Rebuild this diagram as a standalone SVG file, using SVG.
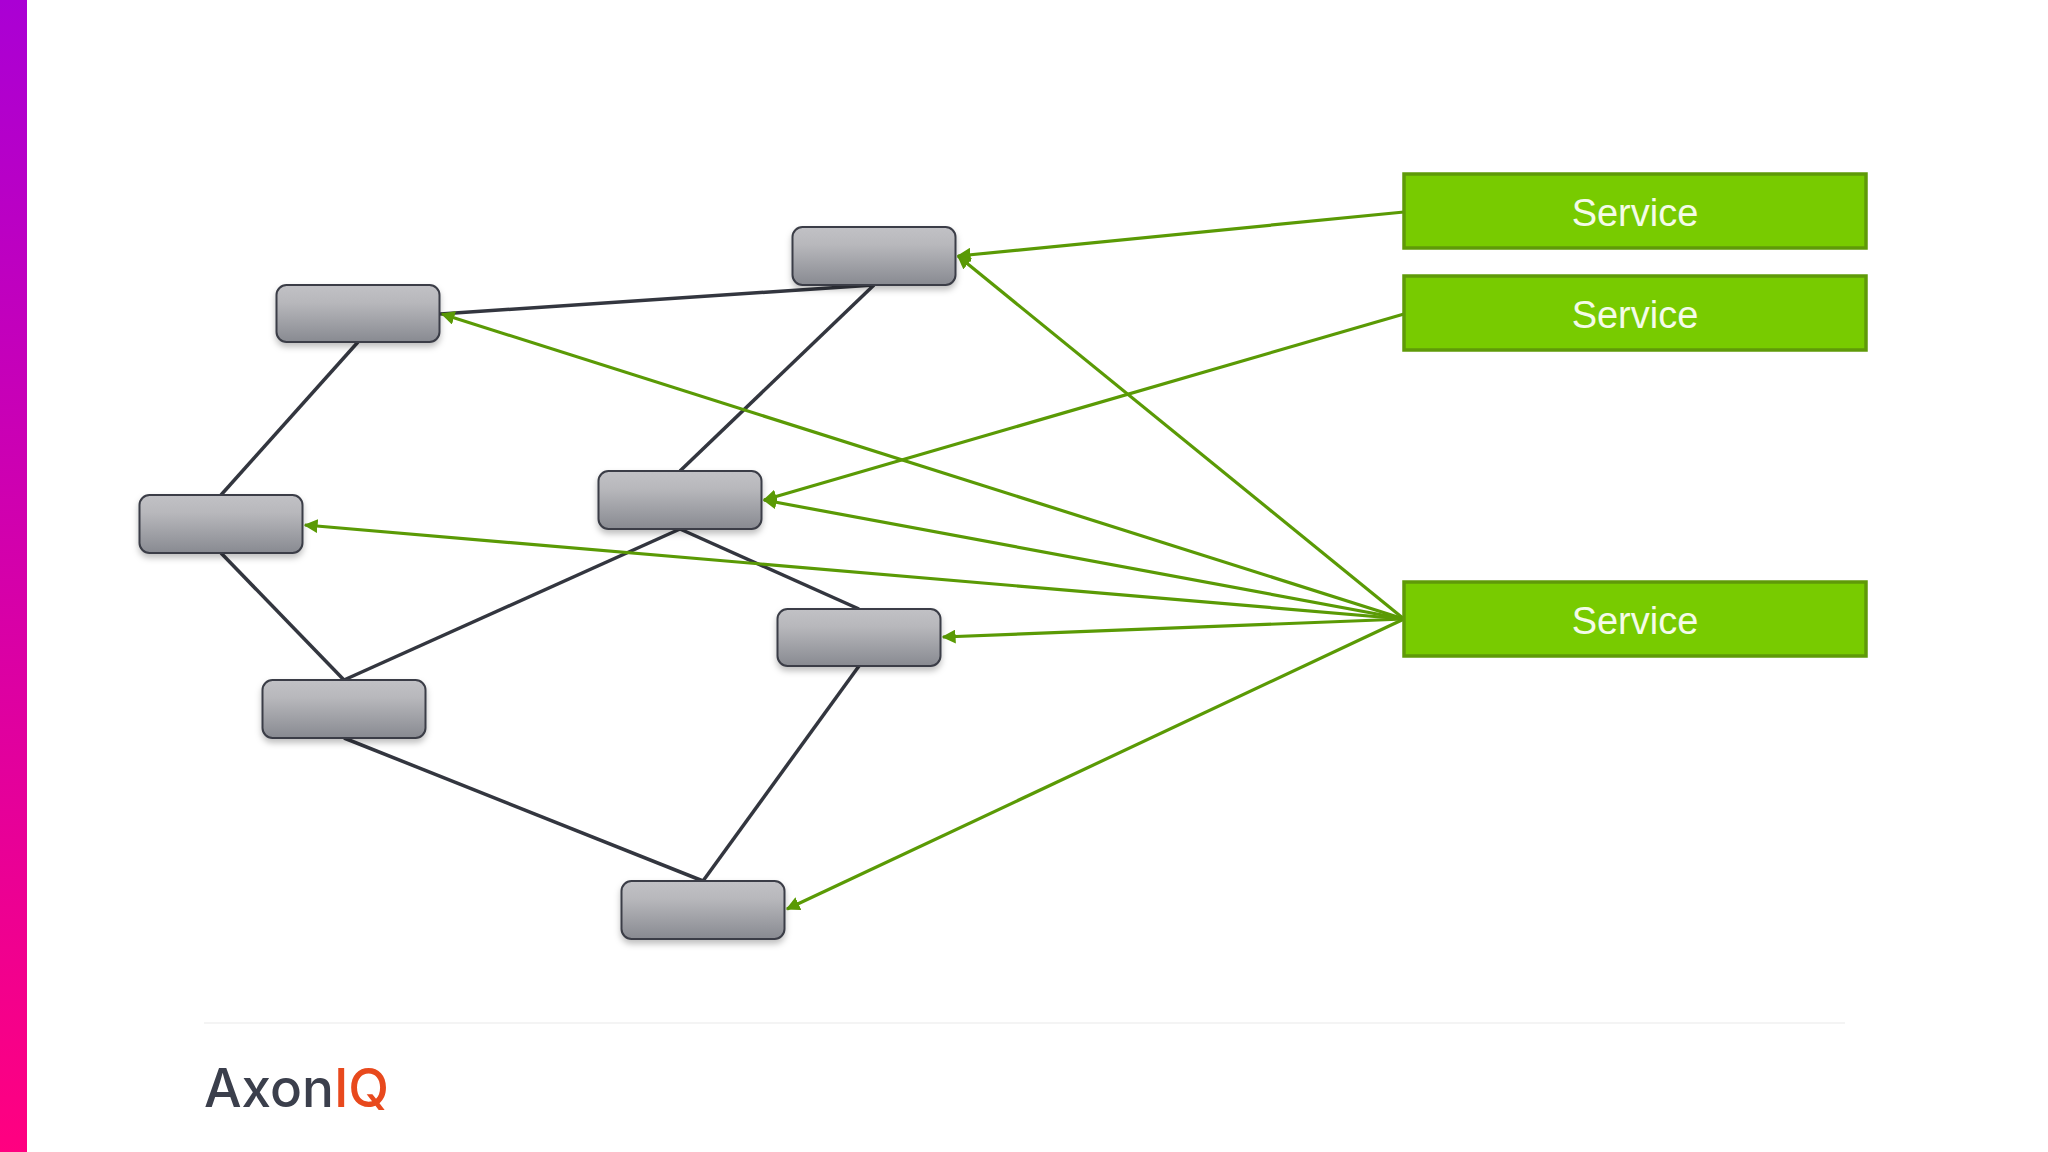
<svg xmlns="http://www.w3.org/2000/svg" width="2048" height="1152" viewBox="0 0 2048 1152">
<defs>
<linearGradient id="bar" x1="0" y1="0" x2="0" y2="1"><stop offset="0" stop-color="#aa00d4"/><stop offset="1" stop-color="#ff0080"/></linearGradient>
<linearGradient id="gray" x1="0" y1="0" x2="0" y2="1"><stop offset="0" stop-color="#c1c1c5"/><stop offset="0.3" stop-color="#b8b8bc"/><stop offset="1" stop-color="#888a91"/></linearGradient>
<filter id="sh" x="-10%" y="-20%" width="120%" height="150%"><feDropShadow dx="0" dy="4" stdDeviation="3" flood-color="#000" flood-opacity="0.25"/></filter>
<marker id="arr" viewBox="0 0 10 10" refX="9" refY="5" markerUnits="userSpaceOnUse" markerWidth="14" markerHeight="14" orient="auto"><path d="M0 0L10 5L0 10Z" fill="#5a9a05"/></marker>
</defs>
<style>
.n{fill:url(#gray);stroke:#3a3d46;stroke-width:2;filter:url(#sh)}
.e{stroke:#33363f;stroke-width:3.5;fill:none}
.a{stroke:#5a9a05;stroke-width:3.2;fill:none;marker-end:url(#arr)}
.s{fill:#78cb00;stroke:#5f9a08;stroke-width:3.5}
.t{font-family:"Liberation Sans",Arial,sans-serif;font-size:38px;fill:#f4fbe8;text-anchor:middle}
.l{font-family:Inter,"Liberation Sans",sans-serif;font-size:53px;font-weight:500}
</style>
<rect width="2048" height="1152" fill="#fff"/>
<rect x="0" y="0" width="27" height="1152" fill="url(#bar)"/>
<g id="connectors">
<path class="e" d="M440 314L874 285"/>
<path class="e" d="M874 285L680 471"/>
<path class="e" d="M358 342L221 495"/>
<path class="e" d="M221 553L344 680"/>
<path class="e" d="M344 680L680 529"/>
<path class="e" d="M680 529L859 609"/>
<path class="e" d="M344 738L703 881"/>
<path class="e" d="M859 666L703 881"/>
<path class="a" d="M1404 212L958 256"/>
<path class="a" d="M1404 314L764 500"/>
<path class="a" d="M1404 619L958 256"/>
<path class="a" d="M1404 619L442 314"/>
<path class="a" d="M1404 619L764 500"/>
<path class="a" d="M1404 619L305 525"/>
<path class="a" d="M1404 619L943 637"/>
<path class="a" d="M1404 619L787 909"/>
</g>
<g id="node1"><rect class="n" x="792.500" y="227" width="163" height="58" rx="10"/></g>
<g id="node2"><rect class="n" x="276.500" y="285" width="163" height="57" rx="10"/></g>
<g id="node3"><rect class="n" x="139.500" y="495" width="163" height="58" rx="10"/></g>
<g id="node4"><rect class="n" x="598.500" y="471" width="163" height="58" rx="10"/></g>
<g id="node5"><rect class="n" x="777.500" y="609" width="163" height="57" rx="10"/></g>
<g id="node6"><rect class="n" x="262.500" y="680" width="163" height="58" rx="10"/></g>
<g id="node7"><rect class="n" x="621.500" y="881" width="163" height="58" rx="10"/></g>
<g id="service1"><rect class="s" x="1404" y="174" width="462" height="74"/><text class="t" x="1635" y="226">Service</text></g>
<g id="service2"><rect class="s" x="1404" y="276" width="462" height="74"/><text class="t" x="1635" y="328">Service</text></g>
<g id="service3"><rect class="s" x="1404" y="582" width="462" height="74"/><text class="t" x="1635" y="634">Service</text></g>
<path d="M204 1023H1845" stroke="#f0f0f0" stroke-width="1.5"/>
<text class="l" x="204" y="1107" fill="#3b3f4c">Axon<tspan fill="#e8491d">IQ</tspan></text>
</svg>
